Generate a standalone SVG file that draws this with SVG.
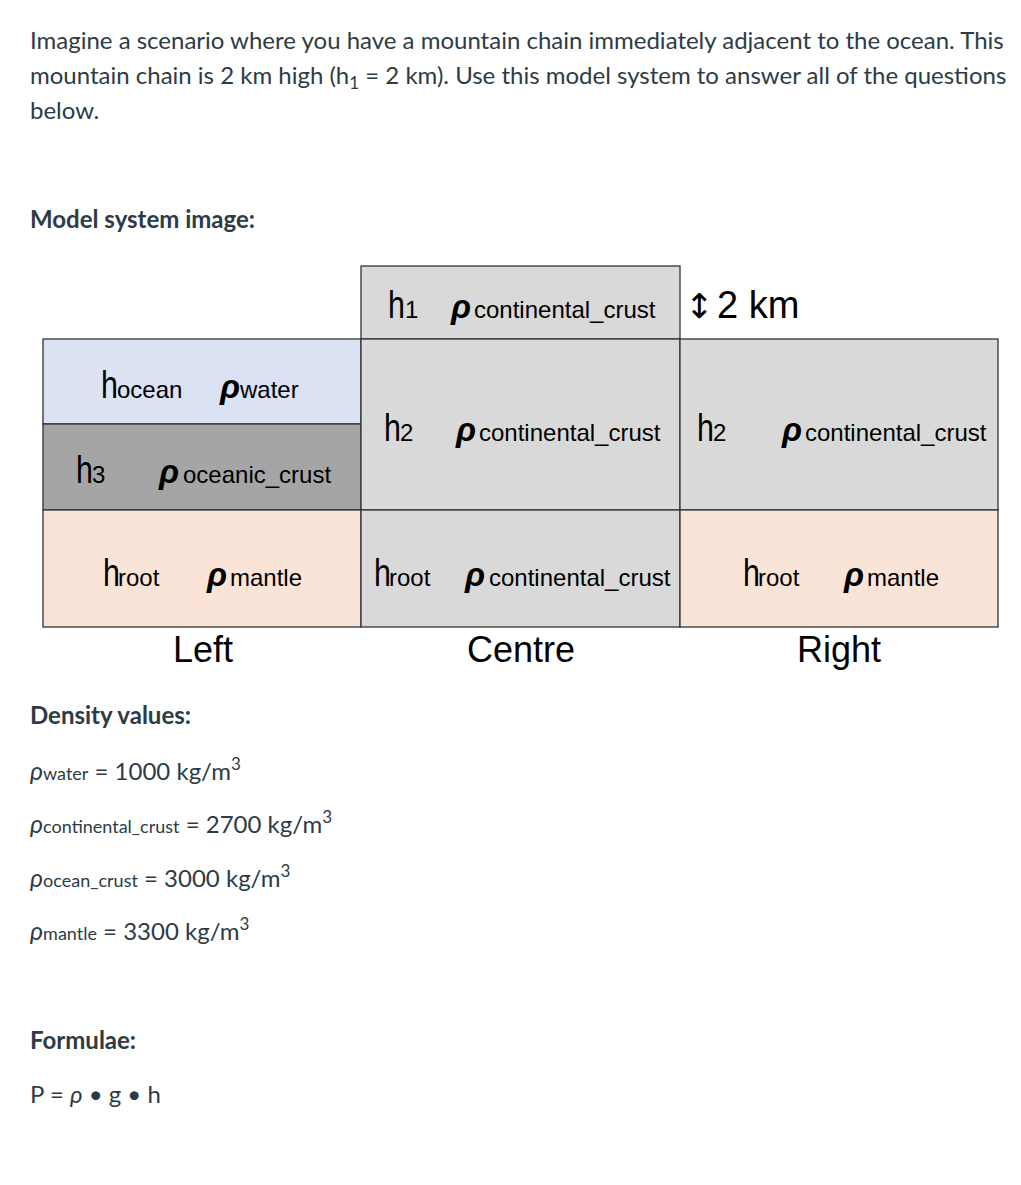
<svg xmlns="http://www.w3.org/2000/svg" width="1021" height="1185" viewBox="0 0 1021 1185">
<style>
.p{font-family:Lato,"Liberation Sans",sans-serif;font-size:24px;fill:#2d3b45}
.b{font-weight:bold}
.sb{font-size:18px}
.d{font-family:"Liberation Sans",Arial,sans-serif;fill:#000}
.h{font-size:38px}
.s{font-size:24px}
.r{font-size:33px;font-weight:bold;font-style:italic}
.cell{stroke:#333;stroke-width:1.3}
.lbl{font-family:"Liberation Sans",Arial,sans-serif;font-size:36px;fill:#000;text-anchor:middle}
</style>
<rect width="1021" height="1185" fill="#fff"/>
<g id="intro">
<text class="p" x="30" y="49">Imagine a scenario where you have a mountain chain immediately adjacent to the ocean. This</text>
<text class="p" x="30" y="84">mountain chain is 2 km high (h<tspan font-size="17" dy="5">1</tspan><tspan dy="-5"> = 2 km). Use this model system to answer all of the questions</tspan></text>
<text class="p" x="30" y="119">below.</text>
<text class="p b" x="30" y="228">Model system image:</text>
</g>
<g id="cells">
<rect id="top" class="cell" x="361" y="266" width="319" height="73" fill="#d9d9d9"/>
<rect id="ocean" class="cell" x="43" y="339" width="318" height="85" fill="#dae2f3"/>
<rect id="oceanic" class="cell" x="43" y="424" width="318" height="86" fill="#a5a5a5"/>
<rect id="centre-h2" class="cell" x="361" y="339" width="319" height="171" fill="#d9d9d9"/>
<rect id="right-h2" class="cell" x="680" y="339" width="318" height="171" fill="#d9d9d9"/>
<rect id="left-root" class="cell" x="43" y="510" width="318" height="117" fill="#fae3d7"/>
<rect id="centre-root" class="cell" x="361" y="510" width="319" height="117" fill="#d9d9d9"/>
<rect id="right-root" class="cell" x="680" y="510" width="318" height="117" fill="#fae3d7"/>
</g>
<g id="cell-labels" class="d">
<g id="lbl-top"><text class="h" transform="translate(388,318) scale(0.8,1)">h</text><text y="318"><tspan class="s" x="405">1</tspan><tspan class="r" x="451">ρ</tspan><tspan class="s" x="474">continental_crust</tspan></text></g>
<text y="318"><tspan x="685" font-family="DejaVu Sans" font-size="34">↕</tspan><tspan x="717" font-size="38">2 km</tspan></text>
<g id="lbl-ocean"><text class="h" transform="translate(101,398) scale(0.8,1)">h</text><text y="398"><tspan class="s" x="117">ocean</tspan><tspan class="r" x="220">ρ</tspan><tspan class="s" x="240">water</tspan></text></g>
<g id="lbl-oceanic"><text class="h" transform="translate(76,483) scale(0.8,1)">h</text><text y="483"><tspan class="s" x="92">3</tspan><tspan class="r" x="159">ρ</tspan><tspan class="s" x="183">oceanic_crust</tspan></text></g>
<g id="lbl-c-h2"><text class="h" transform="translate(384,441) scale(0.8,1)">h</text><text y="441"><tspan class="s" x="400">2</tspan><tspan class="r" x="456">ρ</tspan><tspan class="s" x="479">continental_crust</tspan></text></g>
<g id="lbl-r-h2"><text class="h" transform="translate(697,441) scale(0.8,1)">h</text><text y="441"><tspan class="s" x="713">2</tspan><tspan class="r" x="782">ρ</tspan><tspan class="s" x="805">continental_crust</tspan></text></g>
<g id="lbl-l-root"><text class="h" transform="translate(103,586) scale(0.8,1)">h</text><text y="586"><tspan class="s" x="118">root</tspan><tspan class="r" x="207">ρ</tspan><tspan class="s" x="230">mantle</tspan></text></g>
<g id="lbl-c-root"><text class="h" transform="translate(374,586) scale(0.8,1)">h</text><text y="586"><tspan class="s" x="389">root</tspan><tspan class="r" x="465">ρ</tspan><tspan class="s" x="489">continental_crust</tspan></text></g>
<g id="lbl-r-root"><text class="h" transform="translate(743,586) scale(0.8,1)">h</text><text y="586"><tspan class="s" x="758">root</tspan><tspan class="r" x="844">ρ</tspan><tspan class="s" x="867">mantle</tspan></text></g>
<text class="lbl" x="203" y="662">Left</text>
<text class="lbl" x="521" y="662">Centre</text>
<text class="lbl" x="839" y="662">Right</text>
</g>
<g id="density">
<text class="p b" x="30" y="724">Density values:</text>
<text class="p" x="30" y="780"><tspan font-style="italic" font-size="25">ρ</tspan><tspan class="sb">water</tspan> = 1000 kg/m<tspan font-size="17" dy="-10">3</tspan></text>
<text class="p" x="30" y="833"><tspan font-style="italic" font-size="25">ρ</tspan><tspan class="sb">continental_crust</tspan> = 2700 kg/m<tspan font-size="17" dy="-10">3</tspan></text>
<text class="p" x="30" y="887"><tspan font-style="italic" font-size="25">ρ</tspan><tspan class="sb">ocean_crust</tspan> = 3000 kg/m<tspan font-size="17" dy="-10">3</tspan></text>
<text class="p" x="30" y="940"><tspan font-style="italic" font-size="25">ρ</tspan><tspan class="sb">mantle</tspan> = 3300 kg/m<tspan font-size="17" dy="-10">3</tspan></text>
</g>
<g id="formulae">
<text class="p b" x="30" y="1049">Formulae:</text>
<text class="p" x="30" y="1103">P = <tspan font-style="italic">ρ</tspan> • g • h</text>
</g>
</svg>
